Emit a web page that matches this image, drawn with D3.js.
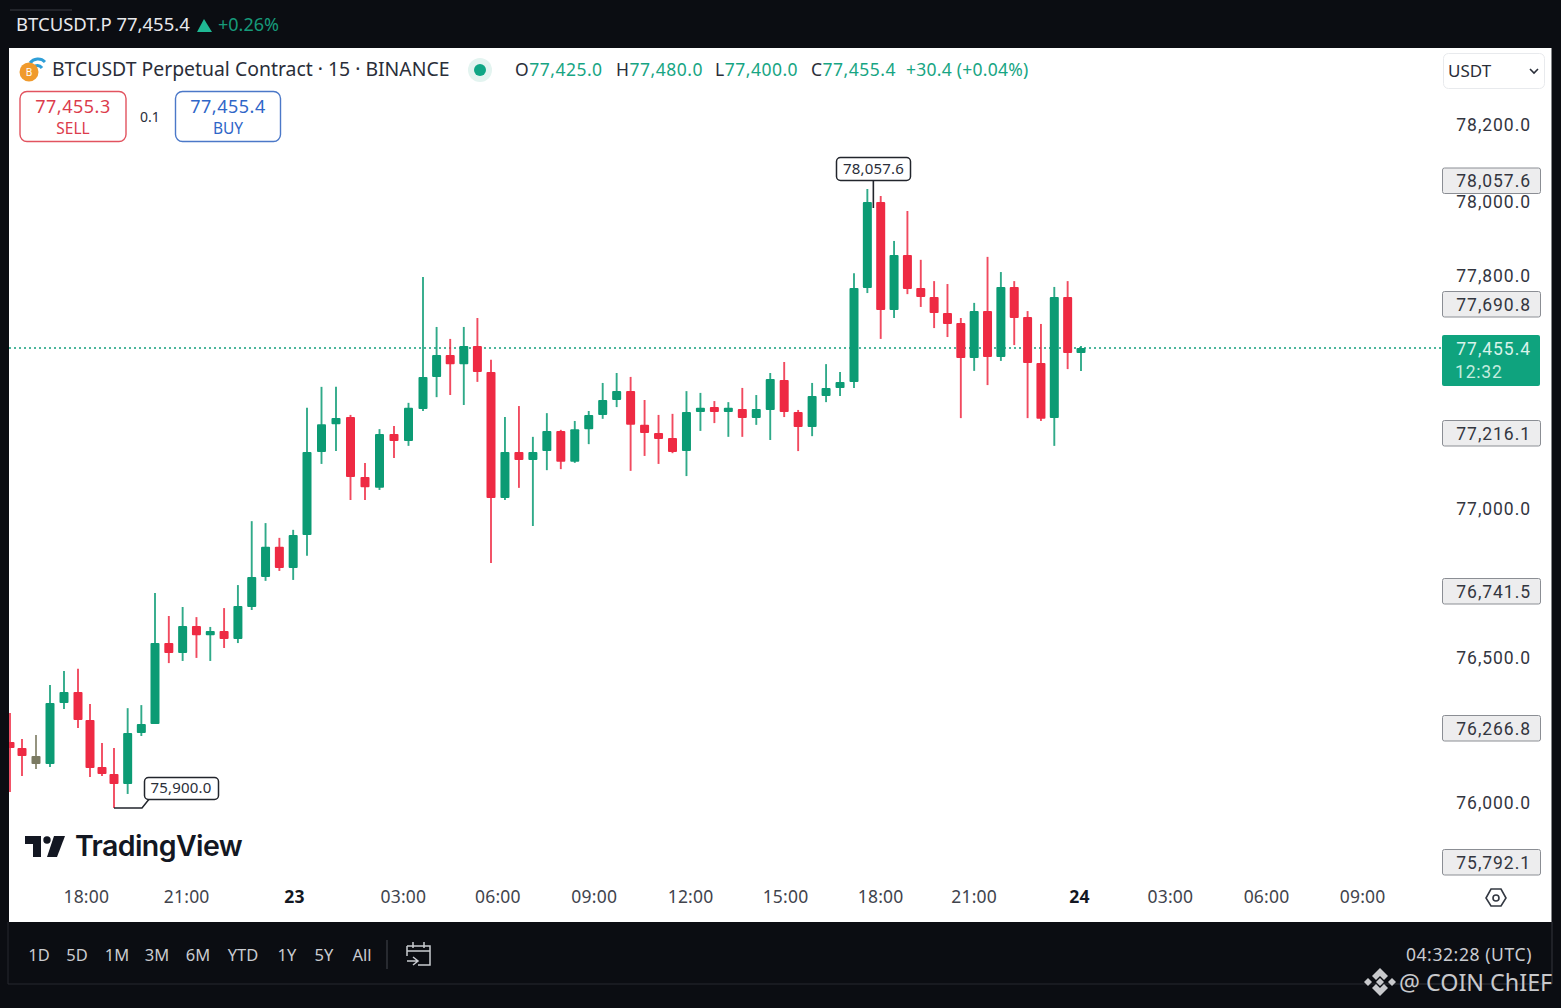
<!DOCTYPE html>
<html>
<head>
<meta charset="utf-8">
<title>BTCUSDT.P</title>
<script src="https://cdn.jsdelivr.net/npm/d3@7"></script>
<style>
html, body { margin: 0; padding: 0; background: #0b0d12; }
svg { display: block; font-family: "Noto Sans", sans-serif; }
.axis path, .axis line { display: none; }
.axis text { font-family: Roboto, sans-serif; font-size: 17.5px; letter-spacing: 0.95px; fill: #33363f; }
.axis--x text { font-family: "Noto Sans", sans-serif; font-size: 17.5px; letter-spacing: 0.2px; fill: #41444d; }
</style>
</head>
<body>
<svg id="chart" width="1561" height="1008"></svg>
<script>
// candles
const opens = [76216,76195,76166,76137,76349,76385,76293,76126,76101,76065,76249,76280,76551,76515,76613,76580,76595,76566,76683,76785,76879,76813,76916,77161,77241,77261,77089,77058,77213,77193,77284,77374,77436,77410,77466,77388,77029,77161,77138,77164,77222,77133,77227,77267,77309,77334,77239,77216,77202,77164,77275,77289,77275,77284,77258,77281,77365,77275,77233,77320,77343,77360,77751,77997,77659,77854,77751,77717,77643,77589,77427,77653,77430,77755,77621,77413,77258,77717,77441];
const highs = [76316,76227,76242,76408,76454,76461,76346,76213,76195,76332,76342,76734,76650,76683,76646,76610,76679,76760,76959,76953,76907,76932,77287,77346,77346,77267,77130,77227,77236,77301,77792,77568,77504,77568,77616,77422,77261,77292,77205,77272,77225,77250,77278,77357,77385,77374,77309,77267,77270,77334,77329,77306,77303,77343,77323,77385,77416,77281,77357,77410,77388,77805,78057.6,78024,77892,77973,77841,77777,77766,77616,77695,77849,77808,77777,77653,77584,77755,77777,77466];
const lows = [76036,76094,76119,76126,76329,76267,76090,76094,75900,76029,76238,76280,76480,76487,76497,76487,76533,76551,76672,76773,76804,76776,76851,77127,77164,77023,77023,77052,77144,77179,77278,77317,77323,77295,77360,76829,77023,77058,76944,77109,77112,77130,77184,77256,77289,77107,77150,77127,77158,77092,77222,77244,77205,77205,77239,77196,77261,77164,77207,77303,77320,77343,77732,77504,77616,77728,77675,77562,77514,77258,77391,77351,77419,77471,77258,77250,77179,77396,77391];
const closes = [76195,76166,76137,76349,76385,76293,76123,76101,76065,76249,76280,76551,76515,76613,76580,76595,76566,76687,76785,76879,76813,76916,77161,77241,77258,77089,77060,77213,77193,77287,77374,77436,77410,77466,77388,77029,77161,77138,77161,77222,77133,77227,77267,77309,77334,77239,77216,77199,77161,77275,77287,77275,77287,77258,77284,77368,77275,77233,77320,77343,77360,77751,77997,77659,77854,77747,77717,77643,77584,77427,77653,77430,77755,77616,77413,77256,77717,77441,77455.4];
const mutedBars = [2];

// the picture's price axis is not even, so the scale runs through what it shows
const priceStops = [75792.1,75900,76000,76266.8,76500,76741.5,77000,77216.1,77455.4,77690.8,77800,78000,78057.6,78200];
const priceTicks = [78200,78000,77800,77000,76500,76000];
const priceLabels = [78057.6,77690.8,77216.1,76741.5,76266.8,75792.1];
const lastPrice = 77455.4;
const highMark = 78057.6;
const lowMark = 75900;

const timeBars = [5.7,13.3,21.1,28.65,35.5,42.4,49.3,56.1,63,70,77.9,84.7,91.9,99.1];
const timeLabels = ["18:00","21:00","23","03:00","06:00","09:00","12:00","15:00","18:00","21:00","24","03:00","06:00","09:00"];
const rangeButtons = ["1D","5D","1M","3M","6M","YTD","1Y","5Y","All"];

const GREEN = "#0c9b74", RED = "#ee2a43", MUTED = "#7b7a62";
const svg = d3.select("#chart");
const fmt = d3.format(",.1f");
const candles = opens.map((o, i) => ({ i: i, o: o, h: highs[i], l: lows[i], c: closes[i] }));

const y = d3.scaleLinear().domain(priceStops)
    .range([862,808,802,728,657,591,508,433,348,304,275,201,189,124]);
const x = d3.scaleLinear().domain([0,1,5,8,11,22,30,35,61,78]).range([10,22,78,114,155,307,423,491,854,1081]);

function color(d) {
    if (mutedBars.includes(d.i)) return MUTED;
    return d.c >= d.o ? GREEN : RED;
}

// window
svg.append("rect").attr("x", 9).attr("y", 48).attr("width", 1542.5).attr("height", 874).attr("fill", "#fff");
svg.append("path").attr("d", "M10 10H72").attr("stroke", "#3a3c42").attr("stroke-width", 1);
svg.append("path").attr("d", "M1552 922V984H1380").attr("fill", "none").attr("stroke", "#34363c").attr("stroke-width", 1);
svg.append("path").attr("d", "M8 984H1380M8 922V984").attr("fill", "none").attr("stroke", "#26282e").attr("stroke-width", 1);

// title bar
svg.append("text").attr("x", 16).attr("y", 31).attr("font-size", 18.5).attr("fill", "#e8e9ec").text("BTCUSDT.P 77,455.4");
svg.append("path").attr("d", "M197 32L204 19L212 32Z").attr("fill", "#1fb894");
svg.append("text").attr("x", 218).attr("y", 31).attr("font-size", 18).attr("fill", "#169a7a").text("+0.26%");

// last price line
svg.append("line").attr("x1", 9).attr("x2", 1441).attr("y1", y(lastPrice)).attr("y2", y(lastPrice))
    .attr("stroke", "#12a07e").attr("stroke-width", 1.4).attr("stroke-dasharray", "2 3");

// candles
const g = svg.append("g").attr("clip-path", "url(#plot)");
svg.append("clipPath").attr("id", "plot").append("rect").attr("x", 9).attr("y", 48).attr("width", 1432).attr("height", 840);
g.selectAll(".wick").data(candles).enter().append("line").attr("class", "wick")
    .attr("x1", d => x(d.i)).attr("x2", d => x(d.i))
    .attr("y1", d => y(d.h)).attr("y2", d => y(d.l))
    .attr("stroke", color).attr("stroke-width", 1.9).attr("stroke-opacity", 0.85);
g.selectAll(".bar").data(candles).enter().append("rect").attr("class", "bar")
    .attr("x", d => x(d.i) - 4.5).attr("width", 9)
    .attr("y", d => y(Math.max(d.o, d.c)))
    .attr("height", d => Math.max(3, Math.abs(y(d.o) - y(d.c))))
    .attr("rx", 1).attr("fill", color);

// price axis
svg.append("g").attr("class", "axis axis--y").attr("transform", "translate(1531,0.5)")
    .call(d3.axisLeft(y).tickValues(priceTicks).tickFormat(fmt).tickSize(0).tickPadding(0));

const side = svg.selectAll(".side").data(priceLabels).enter().append("g").attr("class", "side")
    .attr("transform", d => "translate(0," + (d === highMark ? y(d) - 8.5 : y(d)) + ")");
side.append("rect").attr("x", 1442.5).attr("y", -12.5).attr("width", 98).attr("height", 25.5).attr("rx", 2)
    .attr("fill", "#ededee").attr("stroke", "#8b8e94");
side.append("text").attr("x", 1531).attr("y", 6.5).attr("text-anchor", "end").attr("font-family", "Roboto").attr("font-size", 17.5).attr("letter-spacing", 0.95).attr("fill", "#33363f")
    .text(fmt);

svg.append("rect").attr("x", 1442).attr("y", 335).attr("width", 98).attr("height", 51).attr("rx", 2).attr("fill", "#0fa37e");
svg.append("text").attr("x", 1531).attr("y", y(lastPrice) + 6.5).attr("text-anchor", "end").attr("font-family", "Roboto").attr("font-size", 17.5).attr("letter-spacing", 0.95).attr("fill", "#d8f3ea").text(fmt(lastPrice));
svg.append("text").attr("x", 1455).attr("y", 378).attr("font-family", "Roboto").attr("font-size", 17.5).attr("letter-spacing", 0.8).attr("fill", "#c4ecdf").text("12:32");

// high / low callouts
const hx = x(highs.indexOf(highMark)) + 6;
svg.append("path").attr("d", "M" + hx + " 178V208").attr("stroke", "#22252c").attr("stroke-width", 1.6);
svg.append("rect").attr("x", 836.5).attr("y", 157.5).attr("width", 74).attr("height", 23).attr("rx", 4).attr("fill", "#fff").attr("stroke", "#22252c").attr("stroke-width", 1.5);
svg.append("text").attr("x", 873.5).attr("y", 173.5).attr("text-anchor", "middle").attr("font-size", 15).attr("letter-spacing", 0.2).attr("fill", "#2a2e39").text(fmt(highMark));

const lx = x(lows.indexOf(lowMark));
svg.append("path").attr("d", "M" + lx + " " + y(lowMark) + "H142L150 798").attr("fill", "none").attr("stroke", "#22252c").attr("stroke-width", 1.5);
svg.append("rect").attr("x", 144.5).attr("y", 777.5).attr("width", 74).attr("height", 22).attr("rx", 4).attr("fill", "#fff").attr("stroke", "#22252c").attr("stroke-width", 1.5);
svg.append("text").attr("x", 181).attr("y", 793).attr("text-anchor", "middle").attr("font-size", 15).attr("letter-spacing", 0.2).attr("fill", "#2a2e39").text(fmt(lowMark));

// legend
const coin = svg.append("g");
coin.append("path").attr("d", "M30 63A10 10 0 0 1 45 62").attr("fill", "none").attr("stroke", "#2f9fd8").attr("stroke-width", 3);
coin.append("path").attr("d", "M35 66A6 6 0 0 1 42 68").attr("fill", "none").attr("stroke", "#2f9fd8").attr("stroke-width", 3);
coin.append("circle").attr("cx", 29).attr("cy", 72).attr("r", 9.5).attr("fill", "#f09a2c");
coin.append("text").attr("x", 29).attr("y", 76).attr("text-anchor", "middle").attr("font-size", 10).attr("fill", "#fff").text("B");
svg.append("text").attr("x", 52).attr("y", 76).attr("font-size", 19.4).attr("fill", "#2a2e39").text("BTCUSDT Perpetual Contract · 15 · BINANCE");
svg.append("circle").attr("cx", 480).attr("cy", 70).attr("r", 12).attr("fill", "#e3f4f0");
svg.append("circle").attr("cx", 480).attr("cy", 70).attr("r", 6).attr("fill", "#10a685");

const ohlc = [["O", "77,425.0", 515], ["H", "77,480.0", 616], ["L", "77,400.0", 715], ["C", "77,455.4", 811]];
ohlc.forEach(function(t) {
    const tx = svg.append("text").attr("x", t[2]).attr("y", 76).attr("font-size", 17.5).attr("letter-spacing", 0.5);
    tx.append("tspan").attr("fill", "#2a2e39").text(t[0]);
    tx.append("tspan").attr("fill", "#17a583").text(t[1]);
});
svg.append("text").attr("x", 906).attr("y", 76).attr("font-size", 17.5).attr("letter-spacing", 0.25).attr("fill", "#17a583").text("+30.4 (+0.04%)");

// sell / buy
function tradeBox(bx, w, stroke, price, label, fill) {
    svg.append("rect").attr("x", bx).attr("y", 91.5).attr("width", w).attr("height", 50).attr("rx", 7).attr("fill", "#fff").attr("stroke", stroke).attr("stroke-width", 1.4);
    svg.append("text").attr("x", bx + w / 2).attr("y", 113).attr("text-anchor", "middle").attr("font-size", 18).attr("letter-spacing", 0.5).attr("fill", fill).text(price);
    svg.append("text").attr("x", bx + w / 2).attr("y", 134).attr("text-anchor", "middle").attr("font-size", 15.5).attr("fill", fill).text(label);
}
tradeBox(20, 106, "#e2535f", "77,455.3", "SELL", "#dc3c4c");
tradeBox(175.5, 105, "#4b78c8", "77,455.4", "BUY", "#2f66c8");
svg.append("text").attr("x", 150).attr("y", 122).attr("text-anchor", "middle").attr("font-size", 14).attr("fill", "#2a2e39").text("0.1");

// currency select
svg.append("rect").attr("x", 1443.5).attr("y", 53.5).attr("width", 101).attr("height", 35).attr("rx", 5).attr("fill", "#fff").attr("stroke", "#e8eaed");
svg.append("text").attr("x", 1448).attr("y", 77).attr("font-size", 17).attr("fill", "#2a2e39").text("USDT");
svg.append("path").attr("d", "M1530 69L1534 73L1538 69").attr("fill", "none").attr("stroke", "#2a2e39").attr("stroke-width", 1.6);

// logo
const logo = svg.append("g").attr("fill", "#131722");
logo.append("path").attr("d", "M25 836H41V857H33V844H25Z");
logo.append("circle").attr("cx", 47).attr("cy", 840).attr("r", 3.7);
logo.append("path").attr("d", "M54 836H65L57 857H47Z");
svg.append("text").attr("x", 75).attr("y", 856).attr("font-family", "Inter").attr("font-size", 28.5).attr("font-weight", 600).attr("letter-spacing", -0.6).attr("fill", "#131722").text("TradingView");

// time axis
const xAxis = svg.append("g").attr("class", "axis axis--x").attr("transform", "translate(-0.6,886)")
    .call(d3.axisBottom(x).tickValues(timeBars).tickFormat((d, i) => timeLabels[i]).tickSize(0).tickPadding(0));
xAxis.selectAll("text").attr("font-weight", (d, i) => timeLabels[i].length === 2 ? 700 : 400)
    .style("fill", (d, i) => timeLabels[i].length === 2 ? "#131722" : null)
    .attr("dy", "0.95em");

// settings icon
svg.append("path").attr("d", "M1491 889H1501L1506 898L1501 906H1491L1486 898Z").attr("fill", "none").attr("stroke", "#333842").attr("stroke-width", 1.6);
svg.append("circle").attr("cx", 1496).attr("cy", 898).attr("r", 3).attr("fill", "none").attr("stroke", "#333842").attr("stroke-width", 1.6);

// bottom bar, the buttons are not evenly spaced
const btnX = d3.scaleOrdinal().domain(rangeButtons).range([39,77,117,157,198,243,287,324,362]);
svg.selectAll(".range").data(rangeButtons).enter().append("text").attr("class", "range")
    .attr("x", d => btnX(d)).attr("y", 961).attr("text-anchor", "middle").attr("font-size", 16.5).attr("fill", "#c9cbd0").text(d => d);
svg.append("path").attr("d", "M387 940V969").attr("stroke", "#3c3e45").attr("stroke-width", 1.2);
svg.append("path").attr("d", "M407 946H430V965H418M407 946V956M407 951H430M413 942V948M424 942V948M407 961H417M413 957L418 961L413 965")
    .attr("fill", "none").attr("stroke", "#c9cbd0").attr("stroke-width", 1.5);
svg.append("text").attr("x", 1532).attr("y", 961).attr("text-anchor", "end").attr("font-size", 17.5).attr("letter-spacing", 0.6).attr("fill", "#c9cbd0").text("04:32:28 (UTC)");

// watermark
const mark = svg.append("g").attr("fill", "#c8c9cc");
mark.append("path").attr("d", "M1380 968L1388 976L1384 980L1380 976L1376 980L1372 976Z");
mark.append("path").attr("d", "M1380 996L1372 988L1376 984L1380 988L1384 984L1388 988Z");
mark.append("path").attr("d", "M1380 978L1384 982L1380 986L1376 982Z");
mark.append("path").attr("d", "M1368 978L1372 982L1368 986L1364 982Z");
mark.append("path").attr("d", "M1392 978L1396 982L1392 986L1388 982Z");
svg.append("text").attr("x", 1399).attr("y", 991).attr("font-size", 23.3).attr("fill", "#c8c9cc").text("@ COIN ChIEF");
</script>
</body>
</html>
